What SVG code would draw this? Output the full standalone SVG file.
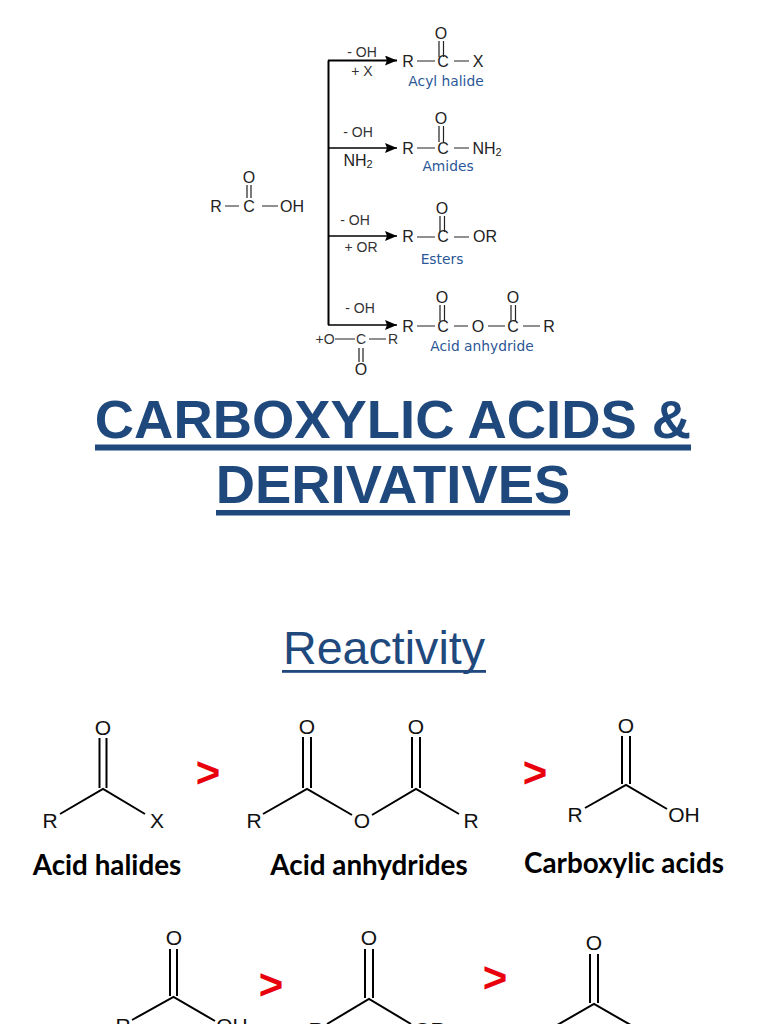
<svg xmlns="http://www.w3.org/2000/svg" width="768" height="1024" viewBox="0 0 768 1024">
<defs>
<marker id="arr" markerUnits="userSpaceOnUse" markerWidth="12" markerHeight="10" refX="12" refY="5" orient="auto"><path d="M0 0L12 5L0 10L2 5Z" fill="#000"/></marker>
</defs>
<style>
text{text-anchor:middle}
.c{font:16px "Liberation Sans",sans-serif;fill:#222}
.s{font:14px "Liberation Sans",sans-serif;fill:#333}
.b{font:13.8px "DejaVu Sans",sans-serif;fill:#2b5797}
.t{font:bold 54.400px "Liberation Sans",sans-serif;fill:#1f497d}
.h{font:46.600px "Liberation Sans",sans-serif;fill:#1f497d}
.u{fill:#1f497d}
.a{font:21px "Liberation Sans",sans-serif;fill:#111}
.n{font:bold 27.800px Lato,sans-serif;fill:#000}
.g{font:bold 42px "Liberation Sans",sans-serif;fill:#e8000d}
.l{stroke:#222;stroke-width:1.2;fill:none}
.m{stroke:#000;stroke-width:2;fill:none}
.w{stroke:#000;fill:none}
</style>
<rect width="768" height="1024" fill="#fff"/>
<g id="connectors">
<path class="w" stroke-width="2" d="M328.500 325V60.500"/>
<path class="w" stroke-width="2" d="M328 60.500H397" marker-end="url(#arr)"/>
<path class="w" stroke-width="1.400" d="M328 148H397" marker-end="url(#arr)"/>
<path class="w" stroke-width="1.400" d="M328 236H397" marker-end="url(#arr)"/>
<path class="w" stroke-width="1.400" d="M328 325H397" marker-end="url(#arr)"/>
</g>
<g id="acid">
<text class="c" x="216" y="212">R</text><text class="c" x="249" y="212">C</text><text class="c" x="292" y="212">OH</text><text class="c" x="249" y="183">O</text>
<path class="l" d="M225 206H239M262 206H278M247 185V198M251 185V198"/>
</g>
<g id="label-acyl">
<text class="s" x="362" y="57">- OH</text><text class="s" x="362" y="76">+ X</text>
</g>
<g id="acyl-halide">
<text class="c" x="408" y="67">R</text><text class="c" x="443" y="67">C</text><text class="c" x="478" y="67">X</text><text class="c" x="441" y="39">O</text>
<path class="l" d="M417 61H435M454 61H469M439 41V57M443.500 41V57"/>
<text class="b" x="446" y="86">Acyl halide</text>
</g>
<g id="label-amide">
<text class="s" x="358" y="137">- OH</text><text class="c" x="358" y="166">NH<tspan font-size="11" dy="2">2</tspan></text>
</g>
<g id="amide">
<text class="c" x="408" y="154">R</text><text class="c" x="443" y="154">C</text><text class="c" x="487" y="154">NH<tspan font-size="11" dy="2">2</tspan></text><text class="c" x="441" y="124">O</text>
<path class="l" d="M417 148H435M454 148H469M439 126V142M443.500 126V142"/>
<text class="b" x="448" y="171">Amides</text>
</g>
<g id="label-ester">
<text class="s" x="355" y="225">- OH</text><text class="s" x="361" y="252">+ OR</text>
</g>
<g id="ester">
<text class="c" x="408" y="242">R</text><text class="c" x="443" y="242">C</text><text class="c" x="485" y="242">OR</text><text class="c" x="442" y="214">O</text>
<path class="l" d="M417 237H435M454 237H469M440 216V232M444.500 216V232"/>
<text class="b" x="442" y="264">Esters</text>
</g>
<g id="label-anhydride">
<text class="s" x="360" y="313">- OH</text>
<text class="s" x="325" y="344">+O</text><text class="s" x="361" y="344">C</text><text class="s" x="393" y="344">R</text><text class="c" x="361" y="375">O</text>
<path class="l" d="M335 339H355M369 339H386M359 348V362M363 348V362"/>
</g>
<g id="anhydride">
<text class="c" x="408" y="332">R</text><text class="c" x="443" y="332">C</text><text class="c" x="478" y="332">O</text><text class="c" x="513" y="332">C</text><text class="c" x="549" y="332">R</text>
<text class="c" x="442" y="303">O</text><text class="c" x="513" y="303">O</text>
<path class="l" d="M417 326H435M454 326H468M488 326H505M523 326H540M440 305V321M444.500 305V321M511 305V321M515.500 305V321"/>
<text class="b" x="482" y="351">Acid anhydride</text>
</g>
<g id="title">
<text class="t" x="393" y="438">CARBOXYLIC ACIDS &amp;</text>
<rect class="u" x="95" y="444.500" width="596" height="6"/>
<text class="t" x="393" y="503">DERIVATIVES</text>
<rect class="u" x="216" y="510" width="354" height="5.500"/>
</g>
<g id="reactivity">
<text class="h" x="384" y="664">Reactivity</text>
<rect class="u" x="282" y="670" width="204" height="2.800"/>
</g>
<g id="acid-halide-struct">
<text class="a" x="103" y="735">O</text><text class="a" x="50" y="828">R</text><text class="a" x="157" y="828">X</text>
<path class="m" d="M99.500 738V788M106.500 738V788M60 814L103 789L145 814"/>
<text class="n" x="107" y="875">Acid halides</text>
</g>
<g id="gt1"><text class="g" x="208" y="787">&gt;</text></g>
<g id="anhydride-struct">
<text class="a" x="307" y="734">O</text><text class="a" x="416" y="734">O</text><text class="a" x="254" y="828">R</text><text class="a" x="362" y="828">O</text><text class="a" x="471" y="828">R</text>
<path class="m" d="M303 737V788M311 737V788M412 737V788M420 737V788M263 814L307 789L352 815M372 815L416 789L459 814"/>
<text class="n" x="369" y="875">Acid anhydrides</text>
</g>
<g id="gt2"><text class="g" x="535" y="787">&gt;</text></g>
<g id="carboxylic-struct">
<text class="a" x="626" y="733">O</text><text class="a" x="575" y="822">R</text><text class="a" x="684" y="822">OH</text>
<path class="m" d="M622 736V784M630 736V784M585 808L626 785L667 809"/>
<text class="n" x="624" y="873">Carboxylic acids</text>
</g>
<g id="acid-2">
<text class="a" x="174" y="945">O</text><text class="a" x="123" y="1033">R</text><text class="a" x="232" y="1033">OH</text>
<path class="m" d="M170 949V996M177 949V996M132 1020L173.500 997L215 1021"/>
</g>
<g id="gt3"><text class="g" x="271" y="999">&gt;</text></g>
<g id="ester-2">
<text class="a" x="369" y="945">O</text><text class="a" x="316" y="1037">R</text><text class="a" x="430" y="1037">OR</text>
<path class="m" d="M365 949V998M373 949V998M327 1024L369 999L411 1024"/>
</g>
<g id="gt4"><text class="g" x="495" y="992">&gt;</text></g>
<g id="amide-2">
<text class="a" x="594" y="950">O</text>
<path class="m" d="M590 954V1003M598 954V1003M552 1028L594 1004L636 1028"/>
</g>
</svg>
